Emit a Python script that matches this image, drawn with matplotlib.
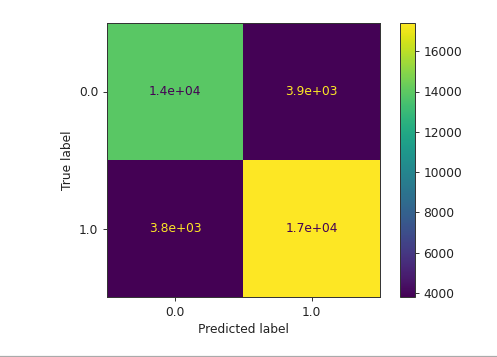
# confusion matrix, drawn by hand in the style of sklearn's ConfusionMatrixDisplay

import matplotlib.pyplot as plt
import numpy as np
from matplotlib.lines import Line2D

labels = ["0.0", "1.0"]
cm = np.array([[13900, 3900],
               [3800, 17400]])
cell_text = [["1.4e+04", "3.9e+03"],
             ["3.8e+03", "1.7e+04"]]
cbar_ticks = [4000, 6000, 8000, 10000, 12000, 14000, 16000]

DPI = 88
W, H = 497, 357
fig = plt.figure(figsize=(W / DPI, H / DPI), dpi=DPI)

ax = fig.add_axes([107 / W, 1 - 297 / H, 273 / W, 274 / H])
cax = fig.add_axes([400 / W, 1 - 297 / H, 15 / W, 274 / H])

cmap = plt.get_cmap("viridis")
im = ax.imshow(cm, cmap=cmap, interpolation="nearest", aspect="auto")
lo, hi = cm.min(), cm.max()
thresh = (lo + hi) / 2.0
for i in range(2):
    for j in range(2):
        col = cmap(1.0) if cm[i, j] < thresh else cmap(0.0)
        ax.text(j, i, cell_text[i][j], ha="center", va="center",
                color=col, fontsize=10)

ax.set_xticks(range(2))
ax.set_xticklabels(labels)
ax.set_yticks(range(2))
ax.set_yticklabels(labels)
ax.set_xlabel("Predicted label", fontsize=10, color="#222222")
ax.set_ylabel("True label", fontsize=10, color="#222222")
ax.tick_params(labelsize=10, labelcolor="#222222", color="#333333")
for s in ax.spines.values():
    s.set_color("#333333")

cb = fig.colorbar(im, cax=cax)
cb.set_ticks(cbar_ticks)
cb.ax.tick_params(labelsize=10, labelcolor="#222222", color="#333333")
cb.outline.set_edgecolor("#333333")

# grey border line at the bottom of the screenshot
fig.add_artist(Line2D([0, 1], [1 - 355.5 / H, 1 - 355.5 / H],
                      transform=fig.transFigure, color="#aaaaaa", lw=1.0))

fig.savefig("out.png", dpi=DPI)
